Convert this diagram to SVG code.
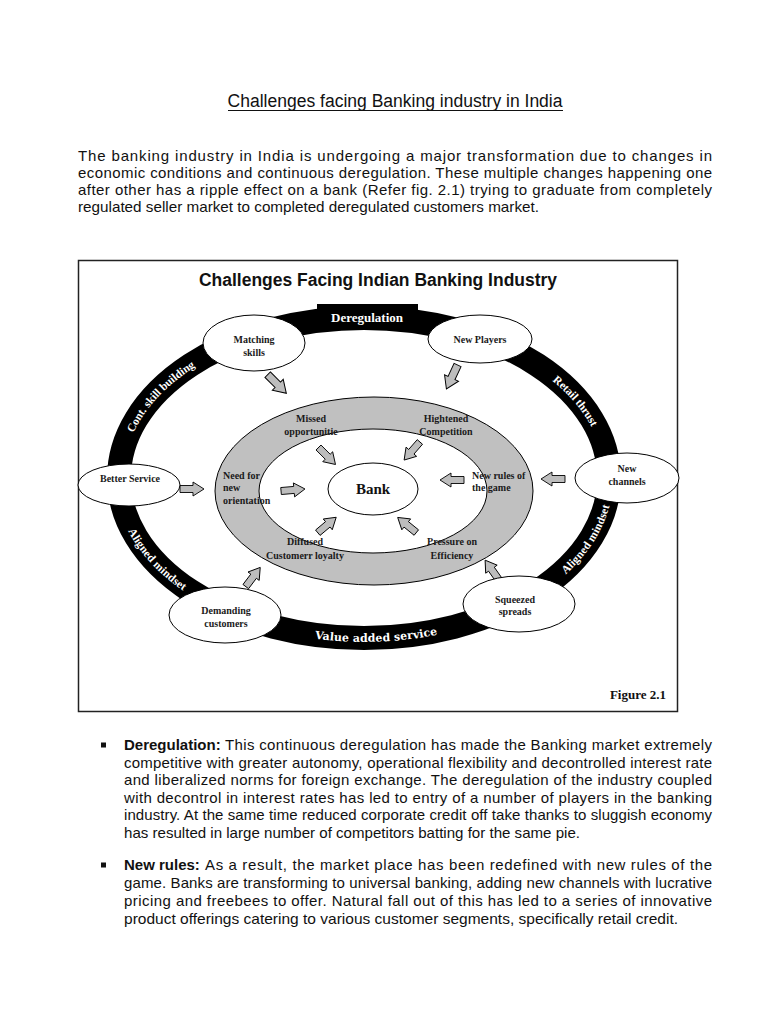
<svg xmlns="http://www.w3.org/2000/svg" xmlns:xlink="http://www.w3.org/1999/xlink" width="768" height="1024" viewBox="0 0 768 1024">
<style>
.body{font-family:"Liberation Sans",Arial,sans-serif;font-size:15px;fill:#111}
.bold{font-weight:bold}
.node{fill:#fff;stroke:#000;stroke-width:1}
.nt{font-family:"Liberation Serif","Times New Roman",serif;font-weight:bold;font-size:10px;fill:#1a1a1a;text-anchor:middle}
.gl{font-family:"Liberation Serif","Times New Roman",serif;font-weight:bold;font-size:10px;fill:#1a1a1a}
.rt{font-family:"Liberation Serif","Times New Roman",serif;font-weight:bold;font-size:11.5px;fill:#fff;text-anchor:middle}
.arrow{fill:#bdbdbd;stroke:#000;stroke-width:0.9;stroke-linejoin:miter}
</style>
<defs>
<path id="ba" d="M-12,-3.5 L1,-3.5 L1,-7 L12,0 L1,7 L1,3.5 L-12,3.5 Z"/>
<path id="p-cont" d="M125.3,442 A245,160 0 0 1 203.3,357.2"/>
<path id="p-retail" d="M527.9,359.1 A245,160 0 0 1 606.6,455.7"/>
<path id="p-al1" d="M122.7,505.8 A245,160 0 0 0 206.5,600.6"/>
<path id="p-al2" d="M546.1,585.1 A245,160 0 0 0 608.9,483.6"/>
<path id="p-value" d="M276.2,627.4 A245,160 0 0 0 475.2,620.6"/>
</defs>
<rect width="768" height="1024" fill="#fff"/>

<!-- page heading and intro -->
<text x="395" y="107" text-anchor="middle" font-family="Liberation Sans, Arial, sans-serif" font-size="18" fill="#111" textLength="335" lengthAdjust="spacingAndGlyphs">Challenges facing Banking industry in India</text>
<line x1="228" y1="110.5" x2="563" y2="110.5" stroke="#111" stroke-width="1"/>
<text class="body" x="78" y="161" textLength="634" lengthAdjust="spacing">The banking industry in India is undergoing a major transformation due to changes in</text>
<text class="body" x="78" y="178" textLength="634" lengthAdjust="spacing">economic conditions and continuous deregulation. These multiple changes happening one</text>
<text class="body" x="78" y="195" textLength="634" lengthAdjust="spacing">after other has a ripple effect on a bank (Refer fig. 2.1) trying to graduate from completely</text>
<text class="body" x="78" y="212" textLength="461" lengthAdjust="spacingAndGlyphs">regulated seller market to completed deregulated customers market.</text>

<!-- figure frame -->
<rect x="78.5" y="260.5" width="599" height="451" fill="none" stroke="#222" stroke-width="1.5"/>
<text x="378" y="286" text-anchor="middle" font-family="Liberation Sans, Arial, sans-serif" font-weight="bold" font-size="17.5" fill="#111" textLength="358" lengthAdjust="spacingAndGlyphs">Challenges Facing Indian Banking Industry</text>
<text x="666" y="699" text-anchor="end" font-family="Liberation Serif, Times New Roman, serif" font-weight="bold" font-size="13" fill="#111">Figure 2.1</text>

<!-- outer ring -->
<g id="outer-ring">
<ellipse cx="364" cy="478" rx="245" ry="160" fill="none" stroke="#000" stroke-width="24"/>
<rect x="317" y="304" width="101" height="22" fill="#000"/>
<text x="367" y="322" text-anchor="middle" font-family="Liberation Serif, Times New Roman, serif" font-weight="bold" font-size="13" fill="#fff">Deregulation</text>
<text class="rt" dy="0.35em"><textPath xlink:href="#p-cont" href="#p-cont" startOffset="50%">Cont. skill building</textPath></text>
<text class="rt" dy="0.35em" font-size="12.5"><textPath xlink:href="#p-retail" href="#p-retail" startOffset="50%">Retail thrust</textPath></text>
<text class="rt" dy="0.35em"><textPath xlink:href="#p-al1" href="#p-al1" startOffset="50%">Aligned mindset</textPath></text>
<text class="rt" dy="0.35em"><textPath xlink:href="#p-al2" href="#p-al2" startOffset="50%">Aligned mindset</textPath></text>
<text class="rt" dy="0.35em" style="font-family:'DejaVu Serif',serif;font-size:11px"><textPath xlink:href="#p-value" href="#p-value" startOffset="50%">Value added service</textPath></text>
</g>

<!-- gray ring and bank -->
<g id="ring-gray">
<ellipse cx="374" cy="491" rx="159" ry="94" fill="#c0c0c0" stroke="#000" stroke-width="1"/>
<ellipse cx="373" cy="491" rx="114" ry="62" fill="#fff" stroke="#000" stroke-width="1"/>
</g>
<g id="bank">
<ellipse class="node" cx="373" cy="489" rx="45" ry="26"/>
<text x="373" y="494" text-anchor="middle" font-family="Liberation Serif, Times New Roman, serif" font-weight="bold" font-size="15" fill="#111">Bank</text>
</g>

<!-- connectors (block arrows) -->
<g id="connectors" class="arrow">
<use href="#ba" xlink:href="#ba" transform="translate(277,384) rotate(45) scale(1.1)"/>
<use href="#ba" xlink:href="#ba" transform="translate(452,377) rotate(115) scale(1.1)"/>
<use href="#ba" xlink:href="#ba" transform="translate(327,456) rotate(45)"/>
<use href="#ba" xlink:href="#ba" transform="translate(412,451) rotate(131)"/>
<use href="#ba" xlink:href="#ba" transform="translate(293,490) rotate(-5)"/>
<use href="#ba" xlink:href="#ba" transform="translate(452,480) rotate(180)"/>
<use href="#ba" xlink:href="#ba" transform="translate(327,525) rotate(-40)"/>
<use href="#ba" xlink:href="#ba" transform="translate(407,525) rotate(-141)"/>
<use href="#ba" xlink:href="#ba" transform="translate(192,489) rotate(0)"/>
<use href="#ba" xlink:href="#ba" transform="translate(553,479) rotate(180)"/>
<use href="#ba" xlink:href="#ba" transform="translate(253,577) rotate(-53)"/>
<use href="#ba" xlink:href="#ba" transform="translate(492,570) rotate(-125)"/>
</g>

<!-- gray ring labels -->
<g id="gray-labels">
<g id="missed"><text class="nt" x="311" y="421.5">Missed</text><text class="nt" x="311" y="434.5">opportunitie</text></g>
<g id="hightened"><text class="nt" x="446" y="421.5">Hightened</text><text class="nt" x="446" y="434.5">Competition</text></g>
<g id="need"><text class="gl" x="223" y="478.5">Need for</text><text class="gl" x="223" y="491">new</text><text class="gl" x="223" y="503.5">orientation</text></g>
<g id="newrules"><text class="gl" x="472" y="478.5">New rules of</text><text class="gl" x="472" y="491">the game</text></g>
<g id="diffused"><text class="nt" x="305" y="545">Diffused</text><text class="nt" x="305" y="558.5">Customerr loyalty</text></g>
<g id="pressure"><text class="nt" x="452" y="545">Pressure on</text><text class="nt" x="452" y="558.5">Efficiency</text></g>
</g>

<!-- outer nodes -->
<g id="matching-skills"><ellipse class="node" cx="254" cy="343" rx="51" ry="28"/><text class="nt" x="254" y="342.5">Matching</text><text class="nt" x="254" y="355.5">skills</text></g>
<g id="new-players"><ellipse class="node" cx="480" cy="339" rx="52" ry="24"/><text class="nt" x="480" y="342.5">New Players</text></g>
<g id="better-service"><ellipse class="node" cx="129" cy="485" rx="51" ry="21"/><text class="nt" x="130" y="481.5">Better Service</text></g>
<g id="new-channels"><ellipse class="node" cx="627" cy="478" rx="52" ry="25"/><text class="nt" x="627" y="471.5">New</text><text class="nt" x="627" y="484.5">channels</text></g>
<g id="demanding-customers"><ellipse class="node" cx="225" cy="615" rx="56" ry="28"/><text class="nt" x="226" y="613.5">Demanding</text><text class="nt" x="226" y="626.5">customers</text></g>
<g id="squeezed-spreads"><ellipse class="node" cx="519" cy="604" rx="56" ry="28"/><text class="nt" x="515" y="602.5">Squeezed</text><text class="nt" x="515" y="614.5">spreads</text></g>

<!-- bullets -->
<rect x="101" y="742.5" width="5" height="5" fill="#111"/>
<text class="body bold" x="124" y="750">Deregulation:</text>
<text class="body" x="225" y="750" textLength="487" lengthAdjust="spacing">This continuous deregulation has made the Banking market extremely</text>
<text class="body" x="124" y="767.6" textLength="588" lengthAdjust="spacing">competitive with greater autonomy, operational flexibility and decontrolled interest rate</text>
<text class="body" x="124" y="785.2" textLength="588" lengthAdjust="spacing">and liberalized norms for foreign exchange. The deregulation of the industry coupled</text>
<text class="body" x="124" y="802.8" textLength="588" lengthAdjust="spacing">with decontrol in interest rates has led to entry of a number of players in the banking</text>
<text class="body" x="124" y="820.4" textLength="588" lengthAdjust="spacing">industry. At the same time reduced corporate credit off take thanks to sluggish economy</text>
<text class="body" x="124" y="838" textLength="456" lengthAdjust="spacingAndGlyphs">has resulted in large number of competitors batting for the same pie.</text>

<rect x="101" y="862.5" width="5" height="5" fill="#111"/>
<text class="body bold" x="124" y="870">New rules:</text>
<text class="body" x="205" y="870" textLength="507" lengthAdjust="spacing">As a result, the market place has been redefined with new rules of the</text>
<text class="body" x="124" y="888" textLength="588" lengthAdjust="spacing">game. Banks are transforming to universal banking, adding new channels with lucrative</text>
<text class="body" x="124" y="906" textLength="588" lengthAdjust="spacing">pricing and freebees to offer. Natural fall out of this has led to a series of innovative</text>
<text class="body" x="124" y="923.5" textLength="554" lengthAdjust="spacingAndGlyphs">product offerings catering to various customer segments, specifically retail credit.</text>
</svg>
